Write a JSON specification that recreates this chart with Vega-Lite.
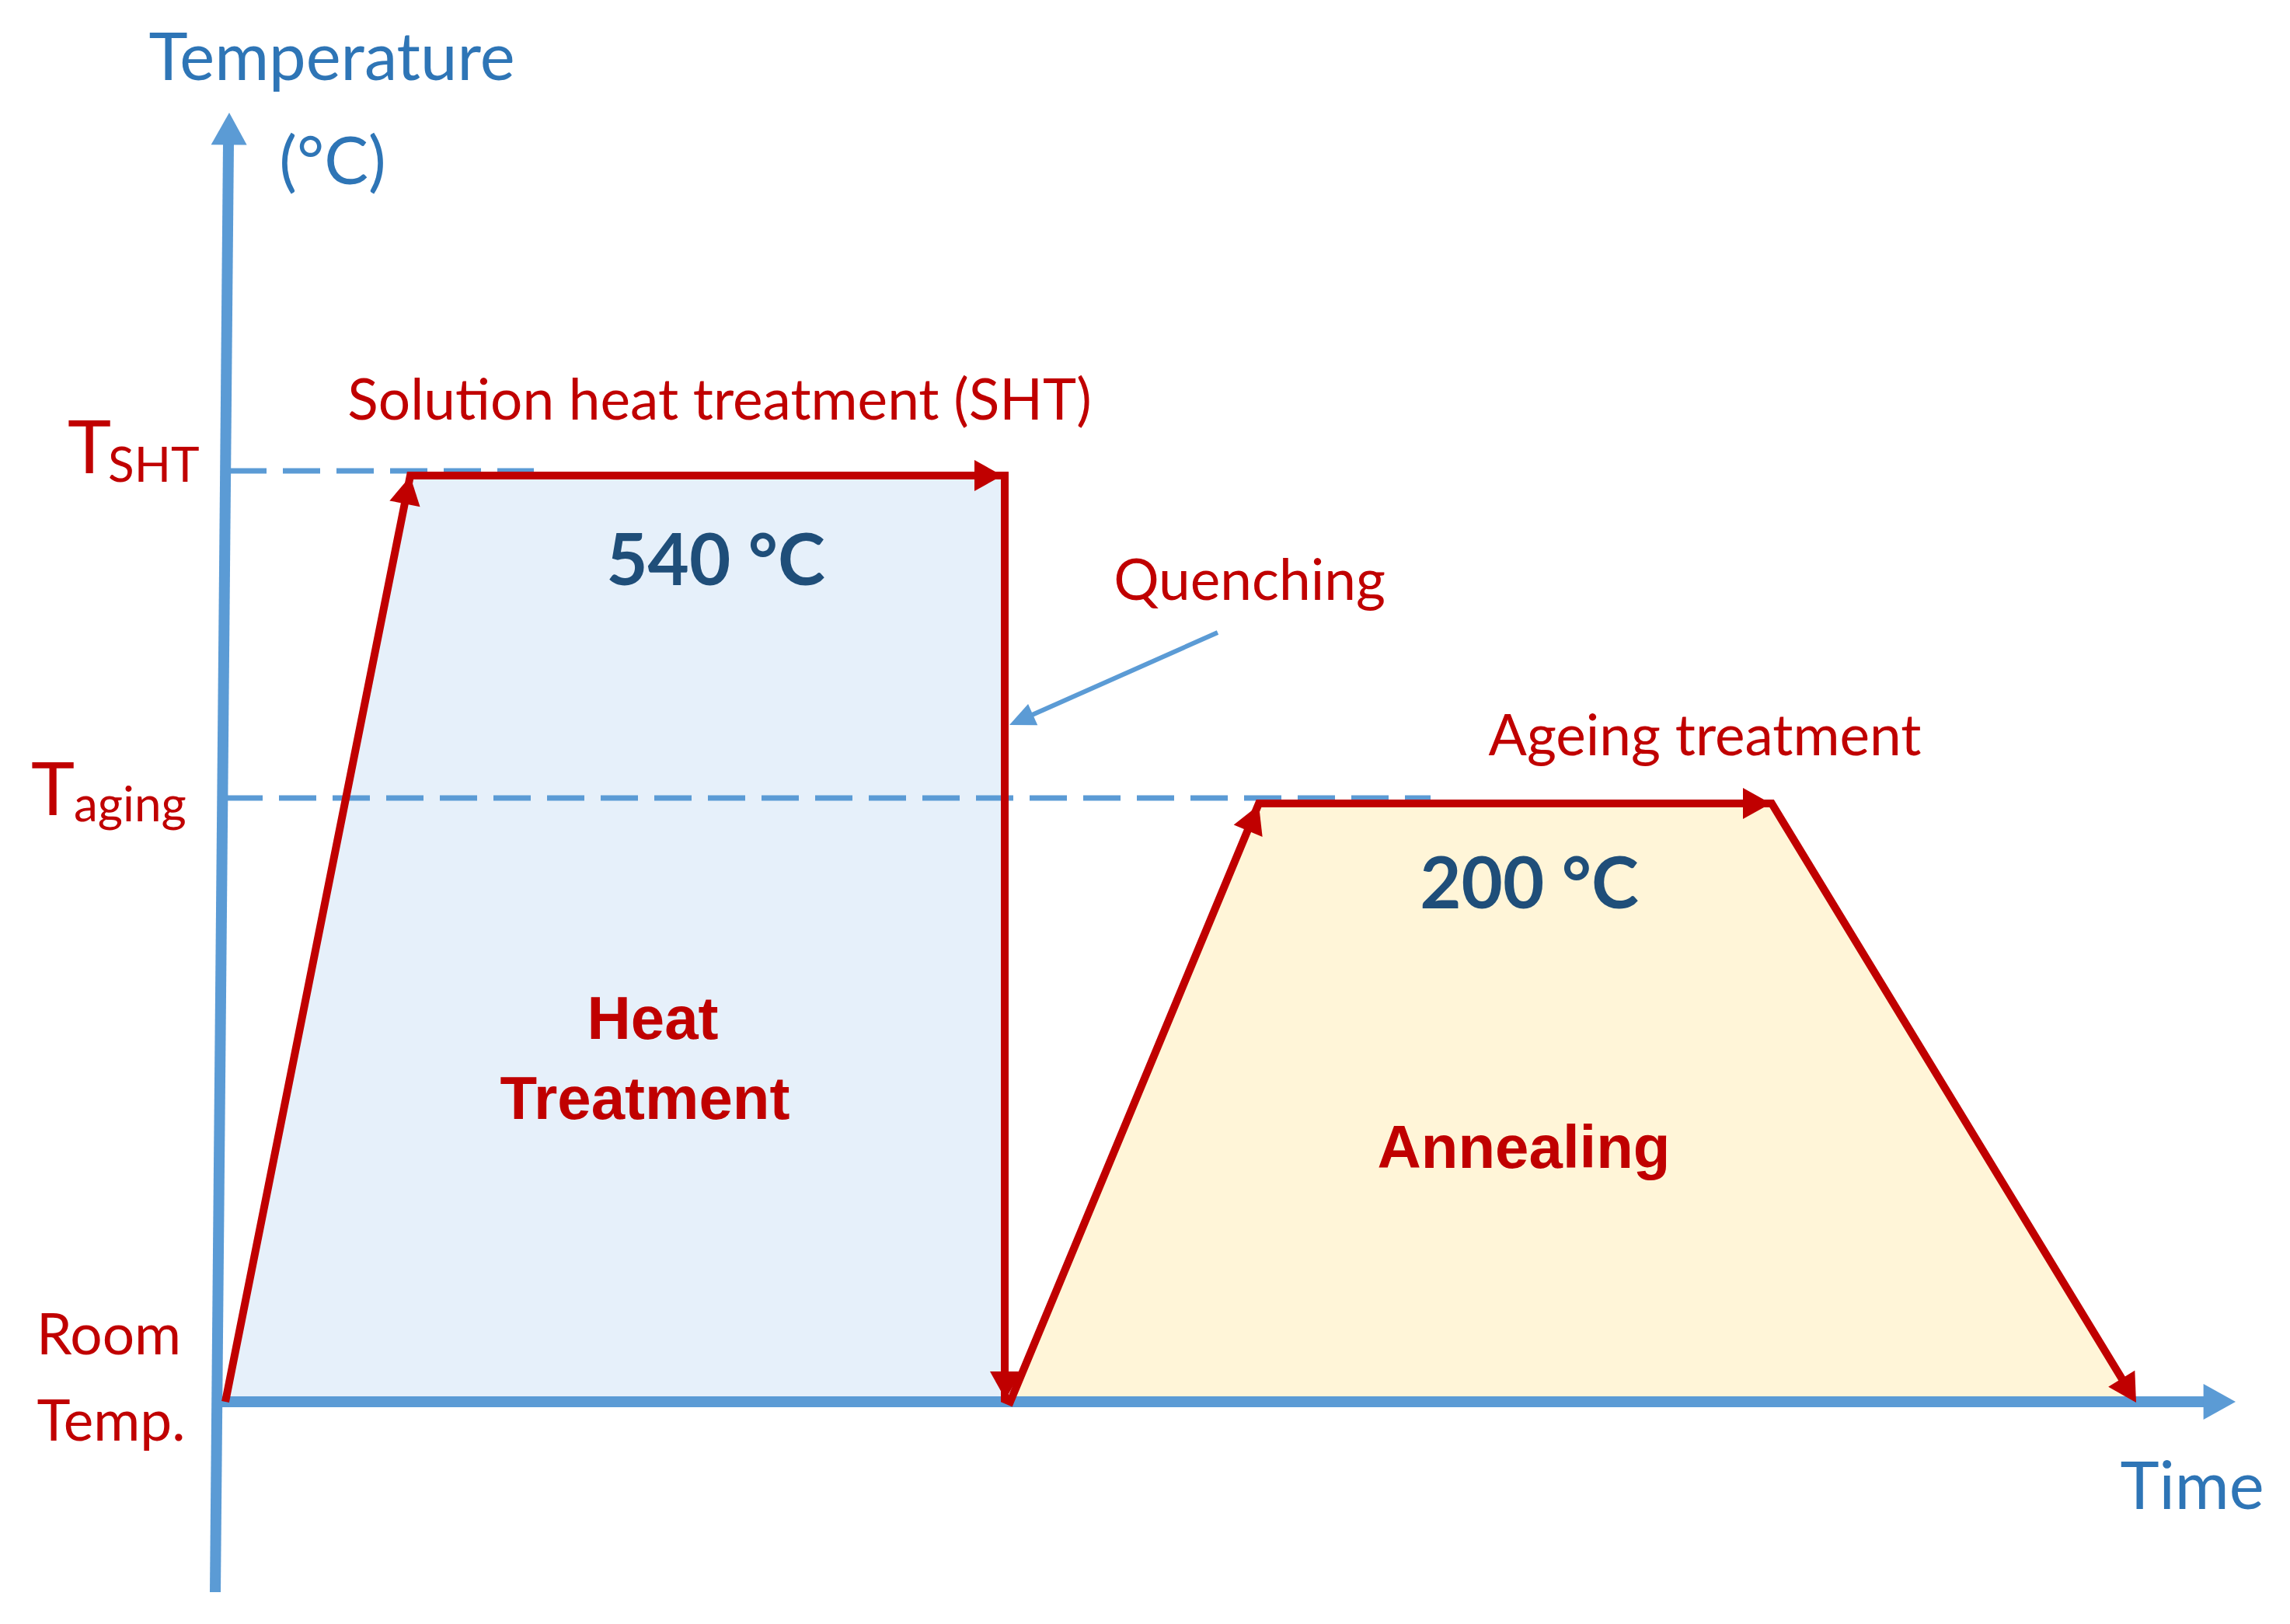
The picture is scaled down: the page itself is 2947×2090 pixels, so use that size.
{
  "$schema": "https://vega.github.io/schema/vega-lite/v6.json",
  "width": 2947,
  "height": 2090,
  "autosize": {"type": "fit", "contains": "padding"},
  "padding": 0,
  "background": "white",
  "config": {"view": {"stroke": null}},
  "datasets": {
    "heatArea": [
      {"t": 0.5, "T": 0},
      {"t": 24.3, "T": 119.2},
      {"t": 100.8, "T": 119.2}
    ],
    "ageArea": [
      {"t": 101.5, "T": 0},
      {"t": 133.5, "T": 77.0},
      {"t": 199.5, "T": 77.0},
      {"t": 246.4, "T": 0}
    ],
    "profile": [
      {"i": 0, "t": 0.5, "T": 0},
      {"i": 1, "t": 24.3, "T": 119.2},
      {"i": 2, "t": 100.8, "T": 119.2},
      {"i": 3, "t": 100.8, "T": 0.3},
      {"i": 4, "t": 101.5, "T": 0},
      {"i": 5, "t": 133.5, "T": 77.0},
      {"i": 6, "t": 199.5, "T": 77.0},
      {"i": 7, "t": 245.4, "T": 1.6}
    ],
    "levels": [
      {"line": "SHT", "t": 1.0, "T": 119.8},
      {"line": "SHT", "t": 40.2, "T": 119.8},
      {"line": "aging", "t": 0.5, "T": 77.7},
      {"line": "aging", "t": 155.6, "T": 77.7}
    ],
    "axes": [
      {"line": "temperature", "t": -0.8, "T": -24.5},
      {"line": "temperature", "t": 0.9, "T": 161.9},
      {"line": "time", "t": -0.8, "T": 0},
      {"line": "time", "t": 255.5, "T": 0}
    ],
    "pointer": [
      {"t": 128.2, "T": 99.0},
      {"t": 104.1, "T": 88.3}
    ],
    "arrows": [
      {"name": "heating", "t": 24.3, "T": 119.1},
      {"name": "sht", "t": 100.5, "T": 119.2},
      {"name": "quench", "t": 100.9, "T": 0.3},
      {"name": "ageheat", "t": 133.5, "T": 76.8},
      {"name": "ageing", "t": 199.4, "T": 77.0},
      {"name": "cooling", "t": 246.4, "T": -0.1},
      {"name": "yaxis", "t": 1.0, "T": 165.9},
      {"name": "xaxis", "t": 259.2, "T": 0},
      {"name": "pointer", "t": 101.4, "T": 87.1}
    ],
    "labels": [
      {"g": "red", "label": "Solution heat treatment (SHT)", "t": 64.1, "T": 126.4},
      {"g": "red", "label": "Quenching", "t": 132.3, "T": 103.2},
      {"g": "red", "label": "Ageing treatment", "t": 190.9, "T": 83.2},
      {"g": "red", "label": "Room", "t": -14.5, "T": 6.1},
      {"g": "red", "label": "Temp.", "t": -14.2, "T": -5.0},
      {"g": "blue", "label": "Temperature", "t": 14.2, "T": 170.1},
      {"g": "blue", "label": "(°C)", "t": 14.3, "T": 156.7},
      {"g": "blue", "label": "Time", "t": 253.6, "T": -13.8},
      {"g": "bold", "label": "Heat", "t": 55.5, "T": 46.7},
      {"g": "bold", "label": "Treatment", "t": 54.5, "T": 36.4},
      {"g": "bold", "label": "Annealing", "t": 167.6, "T": 30.1},
      {"g": "temp", "label": "540 °C", "t": 63.6, "T": 105.1},
      {"g": "temp", "label": "200 °C", "t": 168.3, "T": 63.5},
      {"g": "bigT", "label": "T", "t": -19.8, "T": 119.5},
      {"g": "bigT", "label": "T", "t": -24.5, "T": 75.5},
      {"g": "sub", "label": "SHT", "t": -14.6, "T": 118.4},
      {"g": "sub", "label": "aging", "t": -19.0, "T": 74.7}
    ]
  },
  "encoding": {
    "x": {"field": "t", "type": "quantitative", "scale": {"domain": [-28.5, 266.2], "nice": false, "zero": false}, "axis": null},
    "y": {"field": "T", "type": "quantitative", "scale": {"domain": [-28.6, 180.4], "nice": false, "zero": false}, "axis": null}
  },
  "layer": [
    {
      "data": {"name": "heatArea"},
      "mark": {"type": "area", "color": "#E6F0FA", "opacity": 1},
      "encoding": {"y2": {"datum": 0}}
    },
    {
      "data": {"name": "ageArea"},
      "mark": {"type": "area", "color": "#FFF5D8", "opacity": 1},
      "encoding": {"y2": {"datum": 0}}
    },
    {
      "data": {"name": "axes"},
      "mark": {"type": "line", "color": "#5B9BD5", "strokeWidth": 14, "strokeCap": "butt"},
      "encoding": {"detail": {"field": "line"}}
    },
    {
      "data": {"name": "levels"},
      "mark": {"type": "line", "color": "#5B9BD5", "strokeWidth": 7, "strokeDash": [48, 21], "strokeCap": "butt"},
      "encoding": {"detail": {"field": "line"}}
    },
    {
      "data": {"name": "pointer"},
      "mark": {"type": "line", "color": "#5B9BD5", "strokeWidth": 6},
      "encoding": {}
    },
    {
      "data": {"name": "profile"},
      "mark": {"type": "line", "color": "#C00000", "strokeWidth": 10, "strokeJoin": "miter", "strokeCap": "butt"},
      "encoding": {"order": {"field": "i"}}
    },
    {
      "data": {"name": "arrows"},
      "transform": [{"filter": "datum.name === 'heating'"}],
      "mark": {"type": "point", "shape": "M0,0L-1,1.8L1,1.8Z", "filled": true, "color": "#C00000", "opacity": 1, "size": 1600, "angle": 11.3, "strokeWidth": 0}
    },
    {
      "data": {"name": "arrows"},
      "transform": [{"filter": "datum.name === 'sht' || datum.name === 'ageing'"}],
      "mark": {"type": "point", "shape": "M0,0L-1,1.8L1,1.8Z", "filled": true, "color": "#C00000", "opacity": 1, "size": 1600, "angle": 90, "strokeWidth": 0}
    },
    {
      "data": {"name": "arrows"},
      "transform": [{"filter": "datum.name === 'quench'"}],
      "mark": {"type": "point", "shape": "M0,0L-1,1.8L1,1.8Z", "filled": true, "color": "#C00000", "opacity": 1, "size": 1600, "angle": 180, "strokeWidth": 0}
    },
    {
      "data": {"name": "arrows"},
      "transform": [{"filter": "datum.name === 'ageheat'"}],
      "mark": {"type": "point", "shape": "M0,0L-1,1.8L1,1.8Z", "filled": true, "color": "#C00000", "opacity": 1, "size": 1600, "angle": 22.6, "strokeWidth": 0}
    },
    {
      "data": {"name": "arrows"},
      "transform": [{"filter": "datum.name === 'cooling'"}],
      "mark": {"type": "point", "shape": "M0,0L-1,1.8L1,1.8Z", "filled": true, "color": "#C00000", "opacity": 1, "size": 1600, "angle": 148.6, "strokeWidth": 0}
    },
    {
      "data": {"name": "arrows"},
      "transform": [{"filter": "datum.name === 'yaxis'"}],
      "mark": {"type": "point", "shape": "M0,0L-1,1.8L1,1.8Z", "filled": true, "color": "#5B9BD5", "opacity": 1, "size": 2116, "angle": 0.5, "strokeWidth": 0}
    },
    {
      "data": {"name": "arrows"},
      "transform": [{"filter": "datum.name === 'xaxis'"}],
      "mark": {"type": "point", "shape": "M0,0L-1,1.8L1,1.8Z", "filled": true, "color": "#5B9BD5", "opacity": 1, "size": 2116, "angle": 90, "strokeWidth": 0}
    },
    {
      "data": {"name": "arrows"},
      "transform": [{"filter": "datum.name === 'pointer'"}],
      "mark": {"type": "point", "shape": "M0,0L-1,2.2L1,2.2Z", "filled": true, "color": "#5B9BD5", "opacity": 1, "size": 900, "angle": 246.1, "strokeWidth": 0}
    },
    {
      "data": {"name": "labels"},
      "transform": [{"filter": "datum.g === 'red'"}],
      "mark": {"type": "text", "align": "center", "baseline": "alphabetic", "font": "Lato", "fontSize": 73, "color": "#C00000"},
      "encoding": {"text": {"field": "label"}}
    },
    {
      "data": {"name": "labels"},
      "transform": [{"filter": "datum.g === 'blue'"}],
      "mark": {"type": "text", "align": "center", "baseline": "alphabetic", "font": "Lato", "fontSize": 85, "color": "#2E75B6"},
      "encoding": {"text": {"field": "label"}}
    },
    {
      "data": {"name": "labels"},
      "transform": [{"filter": "datum.g === 'bold'"}],
      "mark": {"type": "text", "align": "center", "baseline": "alphabetic", "font": "Liberation Sans", "fontWeight": "bold", "fontSize": 78, "color": "#C00000"},
      "encoding": {"text": {"field": "label"}}
    },
    {
      "data": {"name": "labels"},
      "transform": [{"filter": "datum.g === 'temp'"}],
      "mark": {"type": "text", "align": "center", "baseline": "alphabetic", "font": "Lato", "fontWeight": "bold", "fontSize": 92, "color": "#1F4E79"},
      "encoding": {"text": {"field": "label"}}
    },
    {
      "data": {"name": "labels"},
      "transform": [{"filter": "datum.g === 'bigT'"}],
      "mark": {"type": "text", "align": "left", "baseline": "alphabetic", "font": "Lato", "fontSize": 95, "color": "#C00000"},
      "encoding": {"text": {"field": "label"}}
    },
    {
      "data": {"name": "labels"},
      "transform": [{"filter": "datum.g === 'sub'"}],
      "mark": {"type": "text", "align": "left", "baseline": "alphabetic", "font": "Lato", "fontSize": 62, "color": "#C00000"},
      "encoding": {"text": {"field": "label"}}
    }
  ]
}
